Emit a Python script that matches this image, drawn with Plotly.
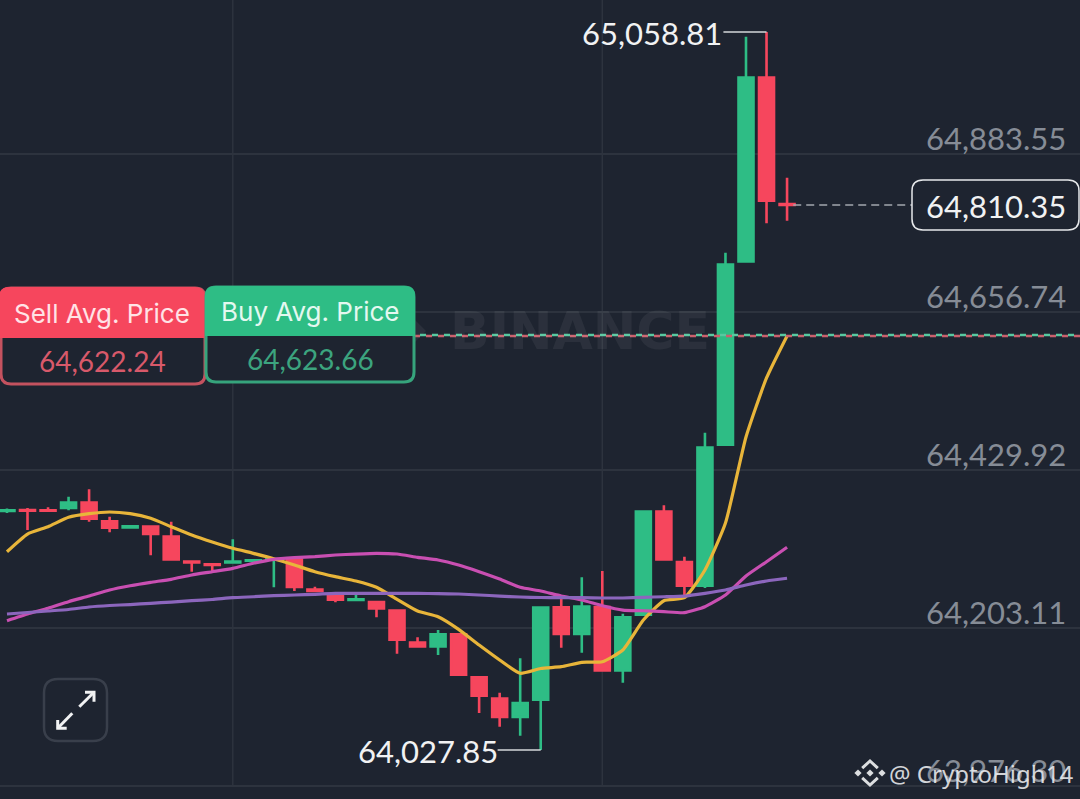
import plotly.graph_objects as go

W = 1080
H = 799
BG = "#1e2430"
GRID = "#2d333e"
RED = "#f6465d"
GREEN = "#2ebd85"
LABEL_FONT = "Lato"

# candles
opens = [64371.1, 64372.5, 64372.2, 64375.4, 64383.1, 64356.3, 64347.5, 64348.7, 64334.3, 64298.4,
         64294.5, 64297.3, 64299.6, 64301.0, 64301.3, 64258.2, 64251.0, 64243.3, 64240.4, 64228.1,
         64182.1, 64176.7, 64194.1, 64132.3, 64101.8, 64075.3, 64100.2, 64232.8, 64194.5, 64233.3,
         64142.2, 64222.2, 64370.2, 64297.9, 64263.8, 64466.2, 64729.4, 64993.2, 64811.8]
highs = [64374.6, 64375.4, 64376.4, 64391.6, 64402.2, 64362.9, 64349.1, 64350.5, 64355.7, 64300.3,
         64295.0, 64330.4, 64300.9, 64302.5, 64302.0, 64262.4, 64252.5, 64251.5, 64241.5, 64229.0,
         64189.8, 64200.2, 64195.0, 64133.5, 64110.2, 64159.6, 64233.3, 64246.2, 64275.9, 64284.9,
         64223.6, 64371.5, 64379.2, 64305.5, 64483.5, 64741.9, 65051.9, 65058.81, 64849.5]
lows = [64368.2, 64343.8, 64369.6, 64372.1, 64355.7, 64340.5, 64347.5, 64307.5, 64299.7, 64283.9,
        64284.9, 64296.4, 64299.1, 64261.5, 64256.2, 64255.5, 64240.0, 64242.6, 64218.5, 64166.2,
        64175.8, 64164.3, 64135.0, 64081.1, 64061.4, 64048.5, 64027.85, 64174.8, 64167.6, 64141.0,
        64124.6, 64221.0, 64300.5, 64245.7, 64260.5, 64465.0, 64728.0, 64784.1, 64787.8]
closes = [64372.2, 64371.5, 64371.4, 64383.1, 64360.0, 64347.1, 64349.1, 64338.0, 64301.6, 64297.3,
          64293.5, 64298.4, 64300.4, 64301.9, 64262.0, 64256.2, 64243.7, 64244.3, 64231.2, 64186.3,
          64176.7, 64194.1, 64136.1, 64105.9, 64075.3, 64095.4, 64232.4, 64194.5, 64233.8, 64142.2,
          64218.5, 64370.2, 64301.6, 64263.8, 64462.1, 64724.8, 64993.2, 64816.5, 64810.35]

ma7 = [64312.6, 64338.0, 64348.5, 64362.0, 64367.2, 64369.6, 64367.2, 64360.6, 64348.5, 64336.6,
       64326.6, 64317.5, 64310.3, 64302.6, 64293.5, 64283.9, 64276.8, 64270.6, 64261.5, 64244.3,
       64227.5, 64219.3, 64201.2, 64178.7, 64157.2, 64138.1, 64145.0, 64147.6, 64153.9, 64154.7,
       64171.5, 64214.6, 64242.3, 64246.6, 64286.4, 64353.8, 64477.3, 64562.0, 64622.3]
ma25 = [64213.6, 64223.2, 64231.4, 64240.9, 64249.0, 64257.7, 64263.8, 64268.7, 64273.0, 64279.2,
        64283.9, 64288.8, 64296.0, 64301.7, 64304.0, 64305.5, 64307.9, 64309.3, 64310.3, 64309.3,
        64304.6, 64300.7, 64293.5, 64283.9, 64273.4, 64261.5, 64256.2, 64249.0, 64243.3, 64235.1,
        64228.9, 64227.9, 64226.5, 64225.1, 64233.7, 64250.5, 64277.8, 64298.3, 64319.0]
ma99 = [64223.2, 64225.4, 64227.5, 64229.7, 64233.3, 64235.4, 64236.8, 64238.6, 64240.4, 64242.3,
        64244.0, 64246.6, 64248.0, 64249.5, 64250.5, 64251.5, 64252.9, 64252.9, 64252.9, 64252.9,
        64252.9, 64252.4, 64251.9, 64250.5, 64249.0, 64247.6, 64246.9, 64246.6, 64246.6, 64246.2,
        64246.2, 64247.2, 64248.0, 64249.0, 64252.9, 64257.7, 64264.8, 64270.6, 64274.5]

grid_prices = [64883.55, 64656.74, 64429.92, 64203.11, 63976.30]
grid_labels = ["64,883.55", "64,656.74", "64,429.92", "64,203.11", "63,976.30"]
grid_candles = [11, 29]

last_price = 64810.35
sell_avg = 64622.24
buy_avg = 64623.66
high_price = 65058.81
low_price = 64027.85
high_index = 37
low_index = 26
last_index = 38

x_range = [-0.34, 52.27]
y_range = [63957.65, 65104.6]
candle_x = list(range(len(opens)))


def px(x):
    return x / W


def py(y):
    return 1 - y / H


def rounded(x0, y0, x1, y1, r, top=True, bottom=True):
    """Rounded box path, pixel positions turned into paper coordinates"""
    a = r if top else 0
    b = r if bottom else 0
    pts = [
        f"M {px(x0 + a)} {py(y0)}", f"L {px(x1 - a)} {py(y0)}",
        f"Q {px(x1)} {py(y0)} {px(x1)} {py(y0 + a)}", f"L {px(x1)} {py(y1 - b)}",
        f"Q {px(x1)} {py(y1)} {px(x1 - b)} {py(y1)}", f"L {px(x0 + b)} {py(y1)}",
        f"Q {px(x0)} {py(y1)} {px(x0)} {py(y1 - b)}", f"L {px(x0)} {py(y0 + a)}",
        f"Q {px(x0)} {py(y0)} {px(x0 + a)} {py(y0)}", "Z",
    ]
    return " ".join(pts)


def poly(points, close=False):
    s = " ".join(("M" if i == 0 else "L") + f" {px(x)} {py(y)}" for i, (x, y) in enumerate(points))
    return s + (" Z" if close else "")


def add_path(fig, path, line=None, width=0, fill=None, layer="above"):
    fig.add_shape(type="path", path=path, xref="paper", yref="paper", layer=layer,
                  line=dict(color=line or "rgba(0,0,0,0)", width=width),
                  fillcolor=fill or "rgba(0,0,0,0)")


def add_text(fig, x, y, text, size, color, anchor="center", family=LABEL_FONT, bold=False):
    fig.add_annotation(x=px(x), y=py(y), xref="paper", yref="paper", text=f"<b>{text}</b>" if bold else text,
                       showarrow=False, xanchor=anchor, yanchor="middle",
                       font=dict(family=family, size=size, color=color))


def diamond(cx, cy, r):
    return [(cx, cy - r), (cx + r, cy), (cx, cy + r), (cx - r, cy)]


def binance_logo(fig, cx, cy, s, color):
    # centre and side diamonds plus the two chevrons
    add_path(fig, poly(diamond(cx, cy, s * 0.3), True), fill=color)
    add_path(fig, poly(diamond(cx - s, cy, s * 0.3), True), fill=color)
    add_path(fig, poly(diamond(cx + s, cy, s * 0.3), True), fill=color)
    add_path(fig, poly([(cx - s * 0.65, cy - s * 0.4), (cx, cy - s), (cx + s * 0.65, cy - s * 0.4)]), line=color, width=3)
    add_path(fig, poly([(cx - s * 0.65, cy + s * 0.4), (cx, cy + s), (cx + s * 0.65, cy + s * 0.4)]), line=color, width=3)


fig = go.Figure()
fig.add_trace(go.Candlestick(x=candle_x, open=opens, high=highs, low=lows, close=closes,
                             increasing=dict(line=dict(color=GREEN, width=2.6), fillcolor=GREEN),
                             decreasing=dict(line=dict(color=RED, width=2.6), fillcolor=RED),
                             whiskerwidth=0, showlegend=False))
for series, color in ((ma7, "#e8b53a"), (ma25, "#c94fb2"), (ma99, "#8c66bd")):
    fig.add_trace(go.Scatter(x=candle_x, y=series, mode="lines", showlegend=False,
                             line=dict(color=color, width=3.2, shape="spline", smoothing=0.5)))

for c in grid_candles:
    fig.add_shape(type="line", x0=c, x1=c, y0=grid_prices[-1], y1=y_range[1], layer="below",
                  line=dict(color=GRID, width=1.5))

# big watermark behind the average lines
add_text(fig, 580, 331, "BINANCE", 52, "rgba(255,255,255,0.06)", bold=True, family="DejaVu Sans")
add_path(fig, poly(diamond(412, 331, 14), True), fill="rgba(255,255,255,0.06)")

# average price lines, two dashed lines that nearly overlap
fig.add_shape(type="line", xref="paper", x0=px(414), x1=1, y0=sell_avg, y1=sell_avg,
              line=dict(color="#c9606c", width=2.5, dash="6px,6px"))
fig.add_shape(type="line", xref="paper", x0=px(420), x1=1, y0=buy_avg, y1=buy_avg,
              line=dict(color="#58c8a0", width=2.5, dash="6px,6px"))

# sell and buy boxes
add_path(fig, rounded(1, 288, 205, 384, 10), line="#c4525f", width=3, fill=BG)
add_path(fig, rounded(-1, 287, 205, 338, 10, bottom=False), fill=RED)
add_path(fig, rounded(206, 287, 414, 382, 10), line="#36a47c", width=3, fill=BG)
add_path(fig, rounded(205, 286, 415, 336, 10, bottom=False), fill=GREEN)
add_text(fig, 102, 313, "Sell Avg. Price", 26, "#ffe3e6", family="Inter")
add_text(fig, 102, 361, f"{sell_avg:,.2f}", 28, "#d8596a")
add_text(fig, 310, 312, "Buy Avg. Price", 26, "#e4f8f0", family="Inter")
add_text(fig, 310, 359, f"{buy_avg:,.2f}", 28, "#3ca47f")

# last price line and box
fig.add_shape(type="line", x0=last_index + 0.3, xref="x", x1=px(912) * (x_range[1] - x_range[0]) + x_range[0],
              y0=last_price, y1=last_price, line=dict(color="#a3a7ad", width=1.5, dash="8px,5px"))
add_path(fig, rounded(912, 180, 1079, 230, 11), line="#e6e8ea", width=1.5, fill=BG)
add_text(fig, 1068, 206, f"{last_price:,.2f}", 31, "#f1f2f3", anchor="right")

# high and low leaders
fig.add_shape(type="line", x0=high_index - 2.1, x1=high_index, y0=high_price, y1=high_price,
              line=dict(color="#d5d7da", width=1.5))
fig.add_shape(type="line", x0=low_index - 2.1, x1=low_index, y0=low_price, y1=low_price,
              line=dict(color="#d5d7da", width=1.5))
add_text(fig, 724, 33, f"{high_price:,.2f}", 31, "#f1f2f3", anchor="right")
add_text(fig, 500, 751, f"{low_price:,.2f}", 31, "#f1f2f3", anchor="right")

# expand button
add_path(fig, rounded(44, 679, 107, 741, 14), line="#393f4b", width=2.5)
add_path(fig, poly([(79.3, 706.7), (94, 692.3)]), line="#f1f2f3", width=3)
add_path(fig, poly([(85, 692.3), (94, 692.3), (94, 701.7)]), line="#f1f2f3", width=3)
add_path(fig, poly([(72.3, 713.3), (57.7, 728.3)]), line="#f1f2f3", width=3)
add_path(fig, poly([(57.7, 720), (57.7, 728.3), (66.7, 728.3)]), line="#f1f2f3", width=3)

# price labels sit just above their grid line
for p, label in zip(grid_prices, grid_labels):
    fig.add_annotation(x=px(1068), y=p, xref="paper", yref="y", text=label, showarrow=False,
                       xanchor="right", yanchor="middle", yshift=16,
                       font=dict(family=LABEL_FONT, size=31, color="#868c96"))

# author watermark
binance_logo(fig, 870, 773, 12, "#dcdee0")
add_text(fig, 887, 773, "@ CryptoHigh14", 24, "rgba(236,238,240,0.88)", anchor="left", family="Noto Sans")

fig.update_layout(width=W, height=H, margin=dict(l=0, r=0, t=0, b=0), autosize=False,
                  paper_bgcolor=BG, plot_bgcolor=BG, boxgap=0.27, boxgroupgap=0, showlegend=False, hovermode=False,
                  xaxis=dict(range=x_range, visible=False, rangeslider=dict(visible=False), fixedrange=True),
                  yaxis=dict(range=y_range, tickvals=grid_prices, showticklabels=False, ticks="",
                             showgrid=True, gridcolor=GRID, gridwidth=1.5, zeroline=False, showline=False,
                             fixedrange=True))

fig.write_html("out.html", config=dict(displayModeBar=False),
               post_script="document.body.style.margin='0';document.body.style.background='" + BG + "';")
